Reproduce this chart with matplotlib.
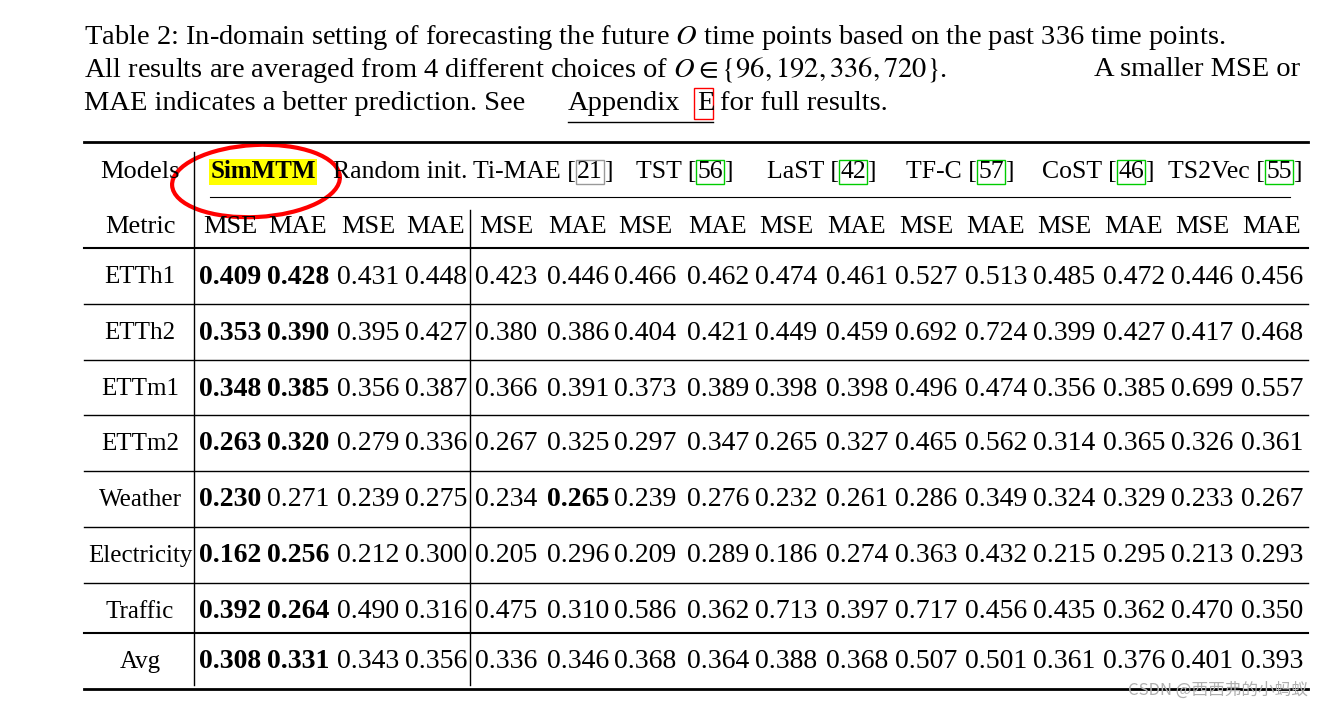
import matplotlib.pyplot as plt
from matplotlib.patches import Ellipse, Rectangle

plt.rcParams['font.family'] = ['Liberation Serif', 'DejaVu Serif']
plt.rcParams['mathtext.fontset'] = 'stix'

datasets = ["ETTh1", "ETTh2", "ETTm1", "ETTm2", "Weather", "Electricity", "Traffic", "Avg"]
models = ["SimMTM", "Random init.", "Ti-MAE", "TST", "LaST", "TF-C", "CoST", "TS2Vec"]
refs = [None, None, "21", "56", "42", "57", "46", "55"]
values = [
    ["0.409", "0.428", "0.431", "0.448", "0.423", "0.446", "0.466", "0.462", "0.474", "0.461", "0.527", "0.513", "0.485", "0.472", "0.446", "0.456"],
    ["0.353", "0.390", "0.395", "0.427", "0.380", "0.386", "0.404", "0.421", "0.449", "0.459", "0.692", "0.724", "0.399", "0.427", "0.417", "0.468"],
    ["0.348", "0.385", "0.356", "0.387", "0.366", "0.391", "0.373", "0.389", "0.398", "0.398", "0.496", "0.474", "0.356", "0.385", "0.699", "0.557"],
    ["0.263", "0.320", "0.279", "0.336", "0.267", "0.325", "0.297", "0.347", "0.265", "0.327", "0.465", "0.562", "0.314", "0.365", "0.326", "0.361"],
    ["0.230", "0.271", "0.239", "0.275", "0.234", "0.265", "0.239", "0.276", "0.232", "0.261", "0.286", "0.349", "0.324", "0.329", "0.233", "0.267"],
    ["0.162", "0.256", "0.212", "0.300", "0.205", "0.296", "0.209", "0.289", "0.186", "0.274", "0.363", "0.432", "0.215", "0.295", "0.213", "0.293"],
    ["0.392", "0.264", "0.490", "0.316", "0.475", "0.310", "0.586", "0.362", "0.713", "0.397", "0.717", "0.456", "0.435", "0.362", "0.470", "0.350"],
    ["0.308", "0.331", "0.343", "0.356", "0.336", "0.346", "0.368", "0.364", "0.388", "0.368", "0.507", "0.501", "0.361", "0.376", "0.401", "0.393"],
]
bold = {(r, 0) for r in range(8)} | {(r, 1) for r in range(8) if r != 4} | {(4, 5)}

fig = plt.figure(figsize=(13.23, 7.07), dpi=100)
ax = fig.add_axes([0, 0, 1, 1])
ax.set_xlim(0, 1323)
ax.set_ylim(707, 0)
ax.axis('off')

fs = 20
cfs = 20.5
# caption
ax.text(84, 37, "Table 2: In-domain setting of forecasting the future $O$ time points based on the past 336 time points.",
        fontsize=cfs, va='center')
ax.text(84, 70, "All results are averaged from 4 different choices of $O\\in\\{96,192,336,720\\}$.",
        fontsize=cfs, va='center')
ax.text(1300, 70, "A smaller MSE or", fontsize=cfs, va='center', ha='right')
ax.text(84, 103, "MAE indicates a better prediction. See", fontsize=cfs, va='center')
ax.text(568, 103, "Appendix", fontsize=cfs, va='center')
ax.text(697, 103, "E", fontsize=cfs, va='center')
ax.text(720, 103, "for full results.", fontsize=cfs, va='center')
ax.plot([568, 713], [122, 122], color='black', lw=1)
ax.add_patch(Rectangle((694, 88), 19, 31, fill=False, edgecolor='red', lw=1))

# rules
ax.plot([84, 1308], [142, 142], color='black', lw=2)
ax.plot([210, 1290], [197, 197], color='black', lw=0.8)
ax.plot([84, 1308], [248, 248], color='black', lw=1.5)
for y in [304, 360, 415, 471, 527, 583]:
    ax.plot([84, 1308], [y, y], color='black', lw=1)
ax.plot([84, 1308], [633, 633], color='black', lw=1.5)
ax.plot([84, 1308], [689, 689], color='black', lw=2)
ax.plot([194, 194], [152, 685], color='black', lw=1)
ax.plot([470, 470], [210, 685], color='black', lw=1)

cols = [230, 298, 368, 436, 506, 578, 645, 718, 786, 857, 926, 996, 1064, 1134, 1202, 1272]
rows = [277, 333, 389, 444, 500, 556, 612, 662]

ax.text(140, 172, "Models", fontsize=fs - 1, ha='center', va='center')
ax.text(140, 227, "Metric", fontsize=fs - 1, ha='center', va='center')
ax.text(263, 172, "SimMTM", fontsize=fs - 2, ha='center', va='center', fontweight='bold',
        bbox=dict(facecolor='#ffff00', edgecolor='none', pad=1))
ax.text(400, 172, "Random init.", fontsize=fs - 1.5, ha='center', va='center')
ref_x = [None, None, 590, 710, 853, 991, 1131, 1279]
for m, r, x in zip(models[2:], refs[2:], ref_x[2:]):
    ax.text(x - 14, 172, m + " [", fontsize=fs - 1.5, ha='right', va='center')
    ax.text(x, 172, r, fontsize=fs - 1.5, ha='center', va='center',
            bbox=dict(facecolor='none', edgecolor='#00cc00' if r != "21" else '#999999', pad=0.5, lw=1))
    ax.text(x + 14, 172, "]", fontsize=fs - 1.5, ha='left', va='center')

for j, x in enumerate(cols):
    ax.text(x, 227, "MSE" if j % 2 == 0 else "MAE", fontsize=fs - 1, ha='center', va='center')

for i, (d, y) in enumerate(zip(datasets, rows)):
    ax.text(140, y, d, fontsize=fs - 2, ha='center', va='center')
    for j, x in enumerate(cols):
        ax.text(x, y, values[i][j], fontsize=fs, ha='center', va='center',
                fontweight='bold' if (i, j) in bold else 'normal')

ax.add_patch(Ellipse((256, 181), 168, 72, angle=-3, fill=False, edgecolor='red', lw=3))
ax.text(1308, 690, "CSDN @西西弗的小蚂蚁", fontsize=12, ha='right', va='center', color='#b0b0b0',
        family=['Noto Sans CJK SC', 'DejaVu Sans'])

fig.savefig("out.png", dpi=100)
